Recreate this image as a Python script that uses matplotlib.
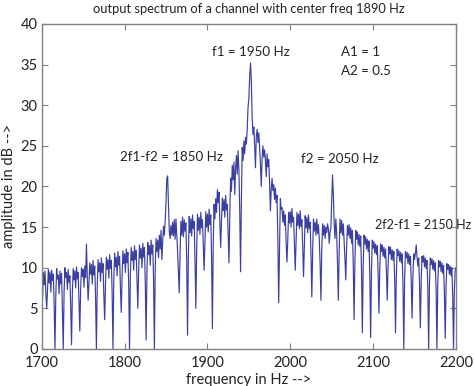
import numpy as np
import matplotlib
matplotlib.use("Agg")
import matplotlib.pyplot as plt

plt.rcParams["font.family"] = ["Lato", "DejaVu Sans"]

# frequency grid, 1 Hz steps
freq_start = 1700
freq_stop = 2200

# amplitude in dB, one row per 10 Hz (1700, 1710, ... 2190), last value is 2200
amp_db = [
    8.0, 6.2, 9.4, 7.9, 9.6, 6.8, 5.0, 7.2, 9.8, 8.1,
    9.5, 7.0, 9.7, 8.4, 9.2, 5.5, 0.0, 6.5, 9.9, 8.6,
    9.1, 6.8, 9.6, 8.0, 9.3, 4.8, 0.0, 7.0, 10.0, 8.8,
    9.4, 7.3, 9.8, 8.2, 9.0, 5.2, 0.5, 6.9, 9.9, 8.5,
    9.6, 7.5, 10.1, 8.6, 9.4, 5.8, 2.2, 7.4, 10.0, 8.9,
    9.8, 7.6, 10.2, 8.8, 12.9, 9.0, 6.0, 8.1, 10.6, 9.2,
    10.4, 8.0, 10.9, 9.1, 10.2, 6.3, 0.0, 7.6, 11.0, 9.5,
    10.6, 8.3, 11.2, 9.4, 10.5, 6.6, 3.6, 8.0, 11.3, 9.8,
    11.0, 8.7, 11.6, 9.9, 10.9, 6.9, 0.0, 8.4, 11.8, 10.1,
    11.3, 9.0, 12.0, 10.3, 11.4, 7.5, 4.5, 8.9, 12.1, 10.5,
    11.7, 9.4, 12.3, 10.6, 11.9, 7.8, 0.0, 9.1, 12.5, 10.9,
    12.0, 9.7, 12.7, 11.0, 12.1, 8.4, 5.0, 9.6, 12.8, 11.2,
    12.4, 10.0, 13.0, 11.3, 12.5, 8.2, 1.1, 9.4, 13.1, 11.6,
    12.7, 10.3, 13.4, 11.7, 12.8, 8.5, 0.0, 10.0, 13.6, 12.0,
    13.4, 11.2, 14.0, 12.3, 14.6, 11.0, 13.2, 15.1, 14.0, 15.7,
    18.0, 21.0, 21.3, 17.6, 14.4, 13.6, 15.2, 14.0, 15.6, 13.9,
    15.9, 13.5, 16.0, 14.2, 12.0, 9.5, 6.9, 11.8, 15.7, 14.0,
    16.2, 13.8, 15.9, 14.5, 15.5, 10.8, 1.7, 11.5, 16.3, 14.3,
    16.0, 13.9, 16.5, 14.8, 15.7, 11.0, 5.0, 12.0, 16.6, 14.6,
    16.2, 14.1, 16.8, 14.9, 15.9, 12.6, 9.7, 13.0, 16.9, 15.0,
    16.6, 14.4, 17.2, 15.3, 16.5, 11.4, 2.5, 12.8, 17.8, 16.0,
    18.5, 16.8, 19.6, 18.0, 19.3, 15.5, 12.5, 15.8, 18.6, 17.0,
    18.4, 16.2, 18.9, 17.1, 17.8, 14.0, 10.6, 16.5, 21.0, 19.4,
    22.6, 20.8, 23.0, 19.0, 22.3, 23.8, 21.5, 24.4, 22.0, 17.0,
    9.5, 18.5, 24.8, 23.2, 25.6, 24.0, 26.0, 25.2, 27.0, 29.7,
    30.8, 33.5, 35.2, 33.0, 28.5, 26.4, 27.3, 25.0, 22.3, 26.2,
    27.0, 25.4, 26.6, 24.6, 22.8, 20.0, 23.5, 25.0, 23.6, 24.5,
    23.2, 21.2, 24.0, 22.4, 23.3, 20.5, 17.0, 19.6, 21.0, 19.5,
    20.2, 18.4, 19.8, 18.0, 18.9, 13.5, 5.7, 12.5, 18.5, 17.2,
    17.4, 15.6, 17.0, 15.2, 16.5, 13.0, 10.7, 13.5, 16.8, 15.5,
    16.9, 15.0, 17.3, 15.6, 16.2, 13.0, 9.7, 13.4, 16.8, 15.2,
    16.6, 14.8, 17.0, 15.1, 15.9, 12.4, 8.9, 12.9, 16.4, 14.9,
    16.2, 14.3, 16.5, 14.8, 15.6, 11.5, 6.4, 12.0, 16.0, 14.5,
    15.6, 14.0, 16.0, 14.2, 15.3, 13.5, 10.5, 6.0, 12.2, 15.4,
    14.0, 15.2, 13.6, 15.0, 14.3, 15.4, 14.8, 13.0, 14.4, 14.9,
    18.2, 21.4, 19.0, 15.3, 13.6, 16.0, 14.2, 10.5, 6.0, 12.0,
    16.0, 14.3, 15.8, 14.0, 15.4, 13.2, 11.0, 8.5, 12.5, 15.2,
    14.0, 15.3, 13.6, 14.9, 13.0, 14.6, 10.5, 3.6, 10.8, 14.6,
    13.5, 14.4, 12.8, 14.1, 12.6, 13.9, 9.6, 2.0, 10.2, 14.0,
    12.9, 13.8, 12.3, 13.5, 12.0, 13.3, 9.0, 1.4, 9.6, 13.4,
    12.4, 13.2, 11.8, 12.9, 11.6, 12.7, 9.3, 4.4, 9.8, 12.9,
    12.0, 12.8, 11.4, 12.5, 11.2, 12.3, 9.6, 6.0, 10.0, 12.6,
    11.7, 12.5, 11.0, 12.2, 10.9, 12.0, 8.6, 2.0, 9.0, 12.3,
    11.5, 12.1, 10.8, 11.9, 10.6, 11.7, 8.0, 0.0, 8.6, 12.0,
    11.2, 11.9, 10.5, 11.7, 10.4, 11.4, 8.4, 3.8, 8.9, 11.7,
    11.0, 11.8, 12.8, 11.3, 10.2, 11.2, 8.0, 2.6, 8.4, 11.4,
    10.7, 11.5, 10.1, 11.2, 9.9, 10.9, 7.6, 0.0, 8.0, 11.2,
    10.4, 11.1, 9.8, 10.9, 9.6, 10.6, 7.3, 0.0, 7.9, 10.9,
    10.1, 10.8, 9.5, 10.6, 9.3, 10.3, 7.0, 1.3, 7.6, 10.5,
    9.8, 10.4, 9.2, 10.2, 9.0, 10.0, 6.6, 0.0, 7.2, 9.6,
    10.0,
]

x_ticks = [1700, 1800, 1900, 2000, 2100, 2200]
y_ticks = [0, 5, 10, 15, 20, 25, 30, 35, 40]

# (text, x in Hz, y in dB, horizontal alignment, font size)
labels = [
    ("f1 = 1950 Hz", 1953, 36.6, "center", 9.6),
    ("A1 = 1", 2061, 36.6, "left", 9.6),
    ("A2 = 0.5", 2061, 34.2, "left", 9.6),
    ("2f1-f2 = 1850 Hz", 1856, 23.6, "center", 9.6),
    ("f2 = 2050 Hz", 2060, 23.4, "center", 9.6),
    ("2f2-f1 = 2150 Hz", 2102, 15.3, "left", 9.0),
]

freq = np.arange(freq_start, freq_stop + 1)

fig = plt.figure(figsize=(4.74, 3.86), dpi=100)
ax = fig.add_axes([0.088, 0.096, 0.874, 0.842])

ax.plot(freq, amp_db, color="#3b3fa0", lw=0.85)

ax.set_xlim(freq_start, freq_stop)
ax.set_ylim(0, 40)
ax.set_xticks(x_ticks)
ax.set_yticks(y_ticks)

for spine in ax.spines.values():
    spine.set_color("#808080")
    spine.set_linewidth(1.0)
ax.tick_params(direction="in", top=True, right=True, length=4,
               color="#808080", labelsize=10.5, labelcolor="#222222")
ax.tick_params(axis="x", pad=5)
ax.tick_params(axis="y", pad=3)

ax.set_title("output spectrum of a channel with center freq 1890 Hz",
             fontsize=9.3, color="#222222", pad=8)
ax.set_xlabel("frequency in Hz -->", fontsize=10.5, color="#222222", labelpad=2)
ax.set_ylabel("amplitude in dB -->", fontsize=10.5, color="#222222", labelpad=3)

for text, x, y, ha, size in labels:
    ax.text(x, y, text, ha=ha, va="center", fontsize=size, color="#222222",
            clip_on=False)

fig.savefig("out.png", dpi=100)
